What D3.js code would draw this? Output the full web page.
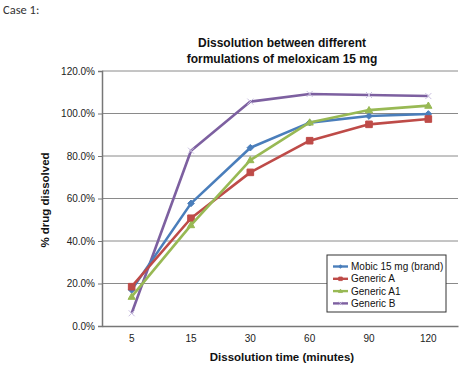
<!DOCTYPE html>
<html>
<head>
<meta charset="utf-8">
<script src="https://cdn.jsdelivr.net/npm/d3@7"></script>
<style>
  body { margin: 0; background: #fff; }
  svg { display: block; }
</style>
</head>
<body>
<div id="root"></div>
<script>
// times in minutes, shown as categories
const times = ["5", "15", "30", "60", "90", "120"];
const seriesNames = ["Mobic 15 mg (brand)", "Generic A", "Generic A1", "Generic B"];
const mobic = [17.0, 57.7, 83.9, 95.7, 98.8, 99.8];
const genericA = [18.5, 50.7, 72.3, 87.2, 94.9, 97.4];
const genericA1 = [13.8, 47.5, 78.1, 95.8, 101.6, 103.7];
const genericB = [6.0, 82.5, 105.6, 109.2, 108.7, 108.2];
const yTicks = [0, 20, 40, 60, 80, 100, 120];

const colors = ["#4a7ebb", "#be4b48", "#98b954", "#7d60a0"];
const shapes = ["diamond", "square", "triangle", "x"];

const width = 474, height = 370;
const margin = {top: 71, right: 16, bottom: 44, left: 102};

const svg = d3.select("#root").append("svg")
    .attr("width", width)
    .attr("height", height);

svg.append("text")
    .attr("x", 3).attr("y", 14)
    .attr("font-family", "Carlito, 'Open Sans', sans-serif")
    .attr("font-size", 12.5)
    .attr("fill", "#333")
    .text("Case 1:");

const title = svg.append("text")
    .attr("text-anchor", "middle")
    .attr("font-family", "Arial, 'Liberation Sans', sans-serif")
    .attr("font-weight", "bold")
    .attr("font-size", 12)
    .attr("fill", "#111");
title.append("tspan").attr("x", 282).attr("y", 47).text("Dissolution between different");
title.append("tspan").attr("x", 282).attr("y", 63).text("formulations of meloxicam 15 mg");

const x = d3.scaleBand()
    .domain(times)
    .range([margin.left, width - margin.right]);

const y = d3.scaleLinear()
    .domain([0, 120])
    .range([height - margin.bottom, margin.top]);

// gridlines
svg.append("g")
    .selectAll("line")
    .data(yTicks.filter(d => d > 0))
    .join("line")
    .attr("x1", margin.left)
    .attr("x2", width - margin.right)
    .attr("y1", d => y(d))
    .attr("y2", d => y(d))
    .attr("stroke", "#8a8a8a")
    .attr("stroke-width", 1);

// y axis
const yAxis = svg.append("g")
    .attr("transform", `translate(${margin.left},0)`)
    .call(d3.axisLeft(y).tickValues(yTicks).tickFormat(d => d.toFixed(1) + "%").tickSize(4).tickPadding(3));
yAxis.select(".domain").attr("stroke", "#777").attr("stroke-width", 1.5);
yAxis.selectAll(".tick line").attr("stroke", "#777");
yAxis.selectAll("text")
    .attr("font-family", "Arial, 'Liberation Sans', sans-serif")
    .attr("font-size", 10)
    .attr("fill", "#222");

// x axis
const xAxis = svg.append("g")
    .attr("transform", `translate(0,${height - margin.bottom})`)
    .call(d3.axisBottom(x).tickSize(0).tickPadding(9));
xAxis.select(".domain").attr("stroke", "#777").attr("stroke-width", 1.5);
xAxis.selectAll("text")
    .attr("font-family", "Arial, 'Liberation Sans', sans-serif")
    .attr("font-size", 10)
    .attr("fill", "#222");

svg.append("text")
    .attr("x", 282).attr("y", 361)
    .attr("text-anchor", "middle")
    .attr("font-family", "Arial, 'Liberation Sans', sans-serif")
    .attr("font-weight", "bold")
    .attr("font-size", 11.5)
    .attr("fill", "#111")
    .text("Dissolution time (minutes)");

svg.append("text")
    .attr("transform", "translate(49,200) rotate(-90)")
    .attr("text-anchor", "middle")
    .attr("font-family", "Arial, 'Liberation Sans', sans-serif")
    .attr("font-weight", "bold")
    .attr("font-size", 11.5)
    .attr("fill", "#111")
    .text("% drug dissolved");

function markerPath(shape, s) {
    if (shape === "diamond") return `M0,${-s}L${s},0L0,${s}L${-s},0Z`;
    if (shape === "square") return `M${-s},${-s}H${s}V${s}H${-s}Z`;
    if (shape === "triangle") return `M0,${-s * 1.1}L${s * 1.1},${s * 0.8}L${-s * 1.1},${s * 0.8}Z`;
    return `M${-s},${-s}L${s},${s}M${-s},${s}L${s},${-s}`;
}

const allSeries = [mobic, genericA, genericA1, genericB];
const line = d3.line()
    .x((d, i) => x(times[i]) + x.bandwidth() / 2)
    .y(d => y(d));

// draw Generic B first so the others sit on top like the original
const order = [3, 0, 1, 2];
order.forEach(k => {
    const g = svg.append("g");
    g.append("path")
        .datum(allSeries[k])
        .attr("d", line)
        .attr("fill", "none")
        .attr("stroke", colors[k])
        .attr("stroke-width", 2.6)
        .attr("stroke-linejoin", "round");
    g.selectAll("path.m")
        .data(allSeries[k])
        .join("path")
        .attr("class", "m")
        .attr("transform", (d, i) => `translate(${x(times[i]) + x.bandwidth() / 2},${y(d)})`)
        .attr("d", markerPath(shapes[k], shapes[k] === "x" ? 3 : 3.3))
        .attr("fill", shapes[k] === "x" ? "none" : colors[k])
        .attr("stroke", shapes[k] === "x" ? "#c9bfe0" : colors[k])
        .attr("stroke-width", 1);
});

// legend
const legend = svg.append("g").attr("transform", "translate(327,255)");
legend.append("rect")
    .attr("width", 119).attr("height", 57)
    .attr("fill", "#fff")
    .attr("stroke", "#333")
    .attr("stroke-width", 1);
const items = legend.selectAll("g.item")
    .data(seriesNames)
    .join("g")
    .attr("class", "item")
    .attr("transform", (d, i) => `translate(6,${11.5 + i * 12.3})`);
items.append("line")
    .attr("x1", 0).attr("x2", 15)
    .attr("stroke", (d, i) => colors[i])
    .attr("stroke-width", 2.4);
items.append("path")
    .attr("transform", "translate(7.5,0)")
    .attr("d", (d, i) => markerPath(shapes[i], 1.8))
    .attr("fill", (d, i) => shapes[i] === "x" ? "none" : colors[i])
    .attr("stroke", (d, i) => shapes[i] === "x" ? "#c9bfe0" : colors[i])
    .attr("stroke-width", 0.8);
items.append("text")
    .attr("x", 18).attr("y", 3.5)
    .attr("font-family", "Arial, 'Liberation Sans', sans-serif")
    .attr("font-size", 10)
    .attr("fill", "#111")
    .text(d => d);
</script>
</body>
</html>
